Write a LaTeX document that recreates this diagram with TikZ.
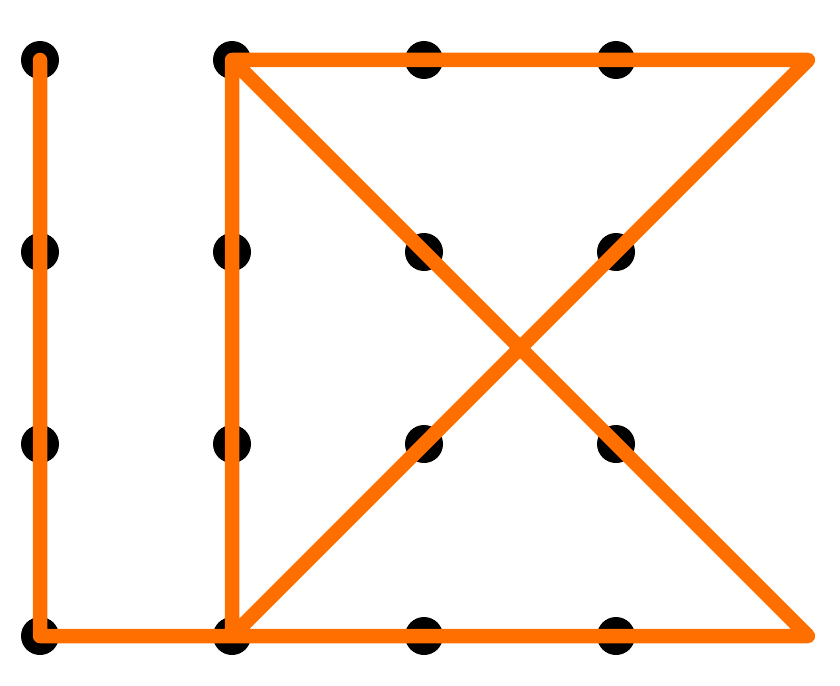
\documentclass[tikz,border=0pt]{standalone}
\usepackage{xcolor}
\definecolor{lineorange}{RGB}{255,111,0}
\tikzset{
    dot/.style={circle, fill=black, inner sep=0pt, minimum size=38pt},
    route/.style={draw=lineorange, line width=14.5pt, line cap=round, line join=round}
}
\begin{document}
\begin{tikzpicture}[x=1pt, y=1pt]
    \useasboundingbox (-40, 60) rectangle (800, -625);

    \foreach \i in {0,...,3}
        \foreach \j in {0,...,3}
            \node[dot] (d\i\j) at (\i*192, -\j*192) {};

    \coordinate (tr) at (768, 0);
    \coordinate (br) at (768, -576);

    \draw[route]
    (d00.center) -- (d03.center) -- (br) -- (d10.center) -- (tr) -- (d13.center) -- (d10.center);
\end{tikzpicture}
\end{document}
